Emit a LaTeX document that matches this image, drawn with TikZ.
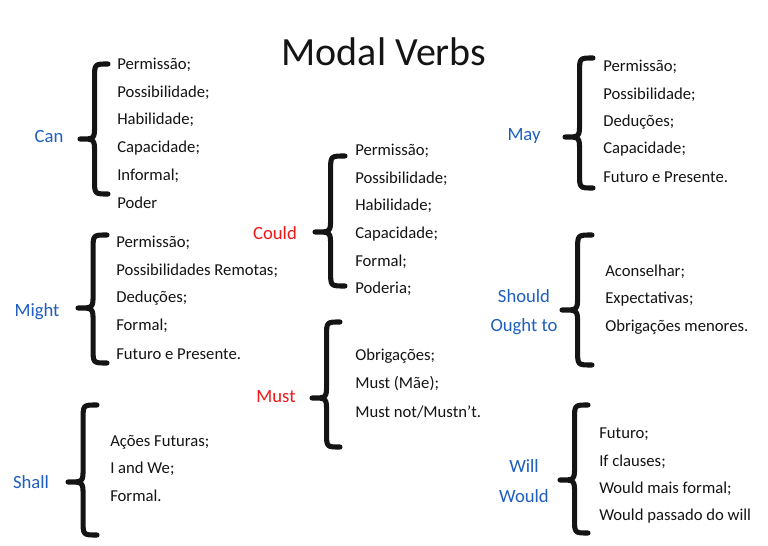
\documentclass[tikz,border=0pt]{standalone}
\usepackage{fontspec}
\setmainfont{Carlito}
\definecolor{mblue}{HTML}{1E5EC0}
\definecolor{mred}{HTML}{F01818}
\definecolor{ink}{HTML}{141414}
\tikzset{
  item/.style={anchor=west, font=\fontsize{12.5}{14}\selectfont, text=ink, inner sep=0pt},
  vblue/.style={font=\fontsize{14}{16}\selectfont, text=mblue, inner sep=0pt},
  vred/.style={font=\fontsize{14}{16}\selectfont, text=mred, inner sep=0pt},
  curly/.style={line width=3.8pt, line cap=round, line join=round, draw=ink},
  titlestyle/.style={font=\fontsize{30}{34}\selectfont, text=ink, inner sep=0pt}
}
% tipx tipy endx top bot
\newcommand\mybrace[5]{%
  \pgfmathsetmacro\xs{#1+0.52*(#3-#1)}%
  \draw[curly] (#3,#4) .. controls (\xs,#4) .. (\xs,{#4+14}) -- (\xs,{#2-14})
    .. controls (\xs,#2) .. (#1,#2) .. controls (\xs,#2) .. (\xs,{#2+14})
    -- (\xs,{#5-14}) .. controls (\xs,#5) .. (#3,#5);
}
\begin{document}
\begin{tikzpicture}[x=0.75pt,y=-0.75pt]
\useasboundingbox[fill=white] (0,0) rectangle (768,546);

\node[titlestyle] (title) at (384,52) {Modal Verbs};

% Can
\node[vblue] (can) at (49,137) {Can};
\mybrace{80}{139}{108}{64}{194}
\foreach \t [count=\i] in {Permissão;,Possibilidade;,Habilidade;,Capacidade;,Informal;,Poder}
  \node[item] (can\i) at (117,{65+27.6*(\i-1)}) {\t};

% Could
\node[vred] (could) at (275,233) {Could};
\mybrace{315}{232}{345}{156}{286}
\foreach \t [count=\i] in {Permissão;,Possibilidade;,Habilidade;,Capacidade;,Formal;,Poderia;}
  \node[item] (could\i) at (355,{151+27.6*(\i-1)}) {\t};

% May
\node[vblue] (may) at (524,136) {May};
\mybrace{565}{137}{593}{58}{188}
\foreach \t [count=\i] in {Permissão;,Possibilidade;,Deduções;,Capacidade;,Futuro e Presente.}
  \node[item] (may\i) at (603,{67+27.5*(\i-1)}) {\t};

% Might
\node[vblue] (might) at (37,312) {Might};
\mybrace{78}{308}{107}{235}{363}
\foreach \t [count=\i] in {Permissão;,Possibilidades Remotas;,Deduções;,Formal;,Futuro e Presente.}
  \node[item] (might\i) at (116,{243+27.75*(\i-1)}) {\t};

% Should / Ought to
\node[vblue] (should) at (524,296) {Should};
\node[vblue] (ought) at (524,327) {Ought to};
\mybrace{562}{310}{592}{235}{365}
\foreach \t [count=\i] in {Aconselhar;,Expectativas;,Obrigações menores.}
  \node[item] (should\i) at (605,{272+27.5*(\i-1)}) {\t};

% Must
\node[vred] (must) at (276,397) {Must};
\mybrace{312}{398}{340}{322}{447}
\foreach \t [count=\i] in {Obrigações;,Must (Mãe);,Must not/Mustn’t.}
  \node[item] (must\i) at (355,{356+28*(\i-1)}) {\t};

% Shall
\node[vblue] (shall) at (31,482) {Shall};
\mybrace{68}{482}{97}{405}{535}
\foreach \t [count=\i] in {Ações Futuras;,I and We;,Formal.}
  \node[item] (shall\i) at (110,{442+27*(\i-1)}) {\t};

% Will / Would
\node[vblue] (will) at (524,466) {Will};
\node[vblue] (would) at (524,496) {Would};
\mybrace{560}{480}{588}{405}{533}
\foreach \t [count=\i] in {Futuro;,If clauses;,Would mais formal;,Would passado do will}
  \node[item] (will\i) at (599,{434+27.3*(\i-1)}) {\t};
\end{tikzpicture}
\end{document}
